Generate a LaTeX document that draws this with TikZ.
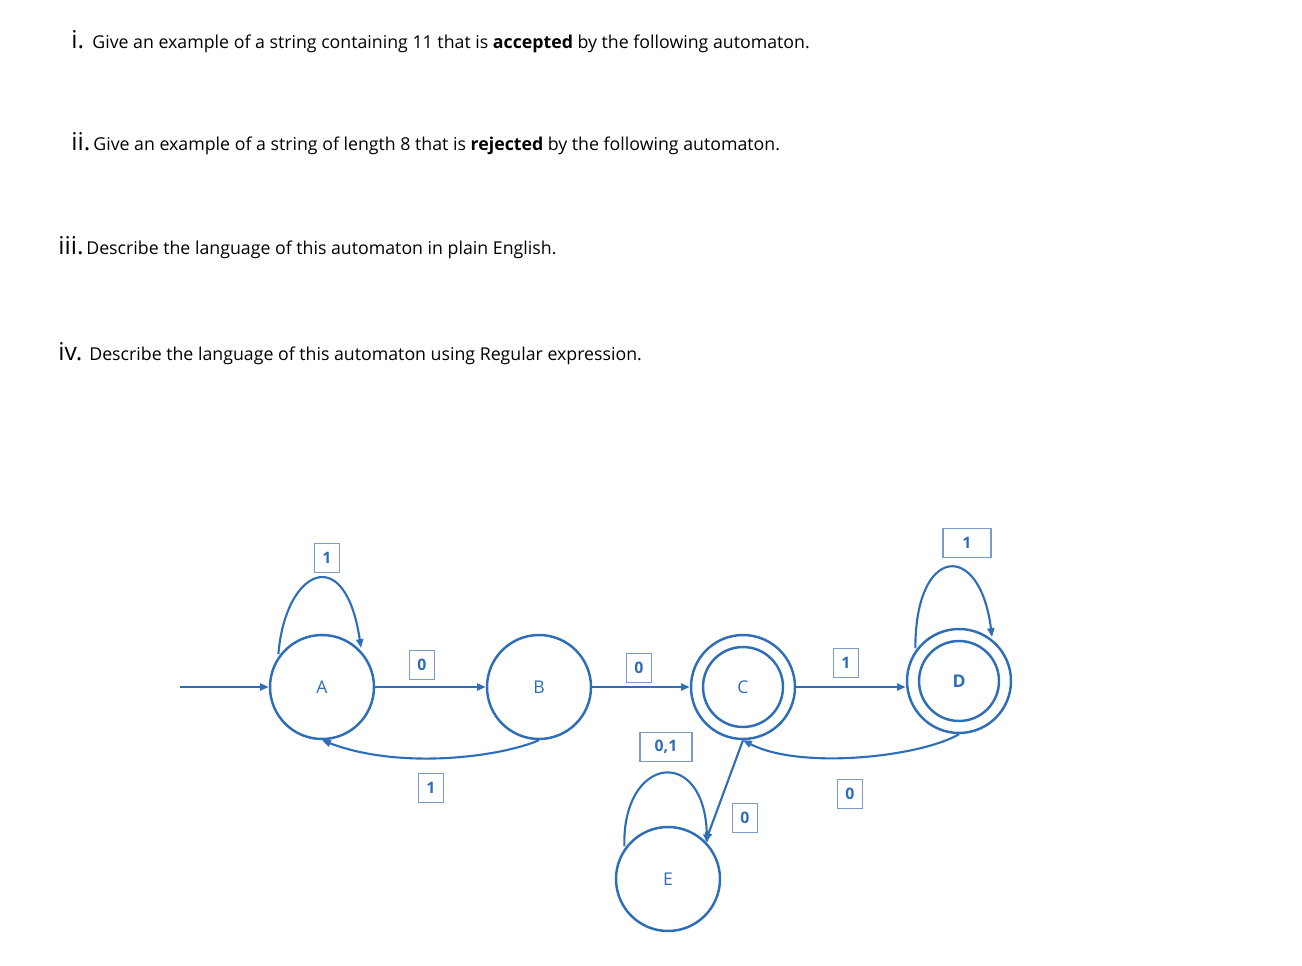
\documentclass[tikz,border=0pt]{standalone}
\usepackage{fontspec}
\setmainfont{Open Sans}
\usetikzlibrary{arrows.meta}
\definecolor{ab}{HTML}{2E6DB8}
\definecolor{lb}{HTML}{7A9CC6}
\begin{document}
\begin{tikzpicture}[x=0.02cm,y=-0.02cm,
  st/.style={circle,draw=ab,line width=1.4pt,minimum size=2.08cm,inner sep=0pt,text=ab,font=\fontsize{10}{12}\selectfont},
  inn/.style={circle,draw=ab,line width=1.4pt,minimum size=1.6cm,inner sep=0pt},
  lab/.style={draw=lb,line width=0.6pt,text=ab,font=\bfseries\fontsize{9}{11}\selectfont,minimum height=0.58cm,minimum width=0.5cm,inner sep=2pt},
  ed/.style={draw=ab,line width=1.2pt,-{Triangle[length=5pt,width=4pt]}},
  q/.style={anchor=base west,font=\fontsize{10.1}{12}\selectfont,inner sep=0pt},
  rn/.style={anchor=base west,font=\fontsize{14}{16}\selectfont,inner sep=0pt}]
\useasboundingbox (0,0) rectangle (1302,966);
\node[rn] (r1) at (71,49) {i.};
\node[q] (t1) at (92,49) {Give an example of a string containing 11 that is \textbf{accepted} by the following automaton.};
\node[rn] (r2) at (71,151) {ii.};
\node[q] (t2) at (93,151) {Give an example of a string of length 8 that is \textbf{rejected} by the following automaton.};
\node[rn] (r3) at (58,255) {iii.};
\node[q] (t3) at (86,255) {Describe the language of this automaton in plain English.};
\node[rn] (r4) at (58,360) {iv.};
\node[q] (t4) at (89,360) {Describe the language of this automaton using Regular expression.};

\node[st] (A) at (322,687) {A};
\node[st] (B) at (539,687) {B};
\node[st] (C) at (743,687) {C};
\node[inn] (Ci) at (743,687) {};
\node[st,font=\bfseries\fontsize{10}{12}\selectfont] (D) at (959,681) {D};
\node[inn] (Di) at (959,681) {};
\node[st] (E) at (668,879) {E};
\coordinate (s) at (180,687);

\draw[ed] (s) -- (A);
\draw[ed] (A) -- (B);
\draw[ed] (B) -- (C);
\draw[ed] (C.east) -- (D.west |- C.east);
\draw[ed] (B.south) .. controls (500,757) and (400,770) .. (A.south);
\draw[ed] (D.south) .. controls (920,757) and (800,770) .. (C.south);
\draw[ed] (C.south) -- (E.north east);
\draw[ed] (A.north west)++(-6,5) .. controls (285,570) and (345,540) .. (361,648);
\draw[ed] (D.north west)++(-6,5) .. controls (915,545) and (980,540) .. (992,637);
\draw[ed] (E.north west)++(-6,5) .. controls (622,755) and (705,745) .. (707,843);

\node[lab] (l1) at (327,558) {1};
\node[lab] (l2) at (422,665) {0};
\node[lab] (l3) at (639,668) {0};
\node[lab] (l4) at (846,663) {1};
\node[lab,minimum width=0.96cm] (l5) at (967,543) {1\hspace{0.3cm}};
\node[lab,minimum width=1.04cm] (l6) at (666,747) {0,1};
\node[lab] (l7) at (431,788) {1};
\node[lab] (l8) at (850,794) {0};
\node[lab] (l9) at (745,818) {0};
\end{tikzpicture}
\end{document}
